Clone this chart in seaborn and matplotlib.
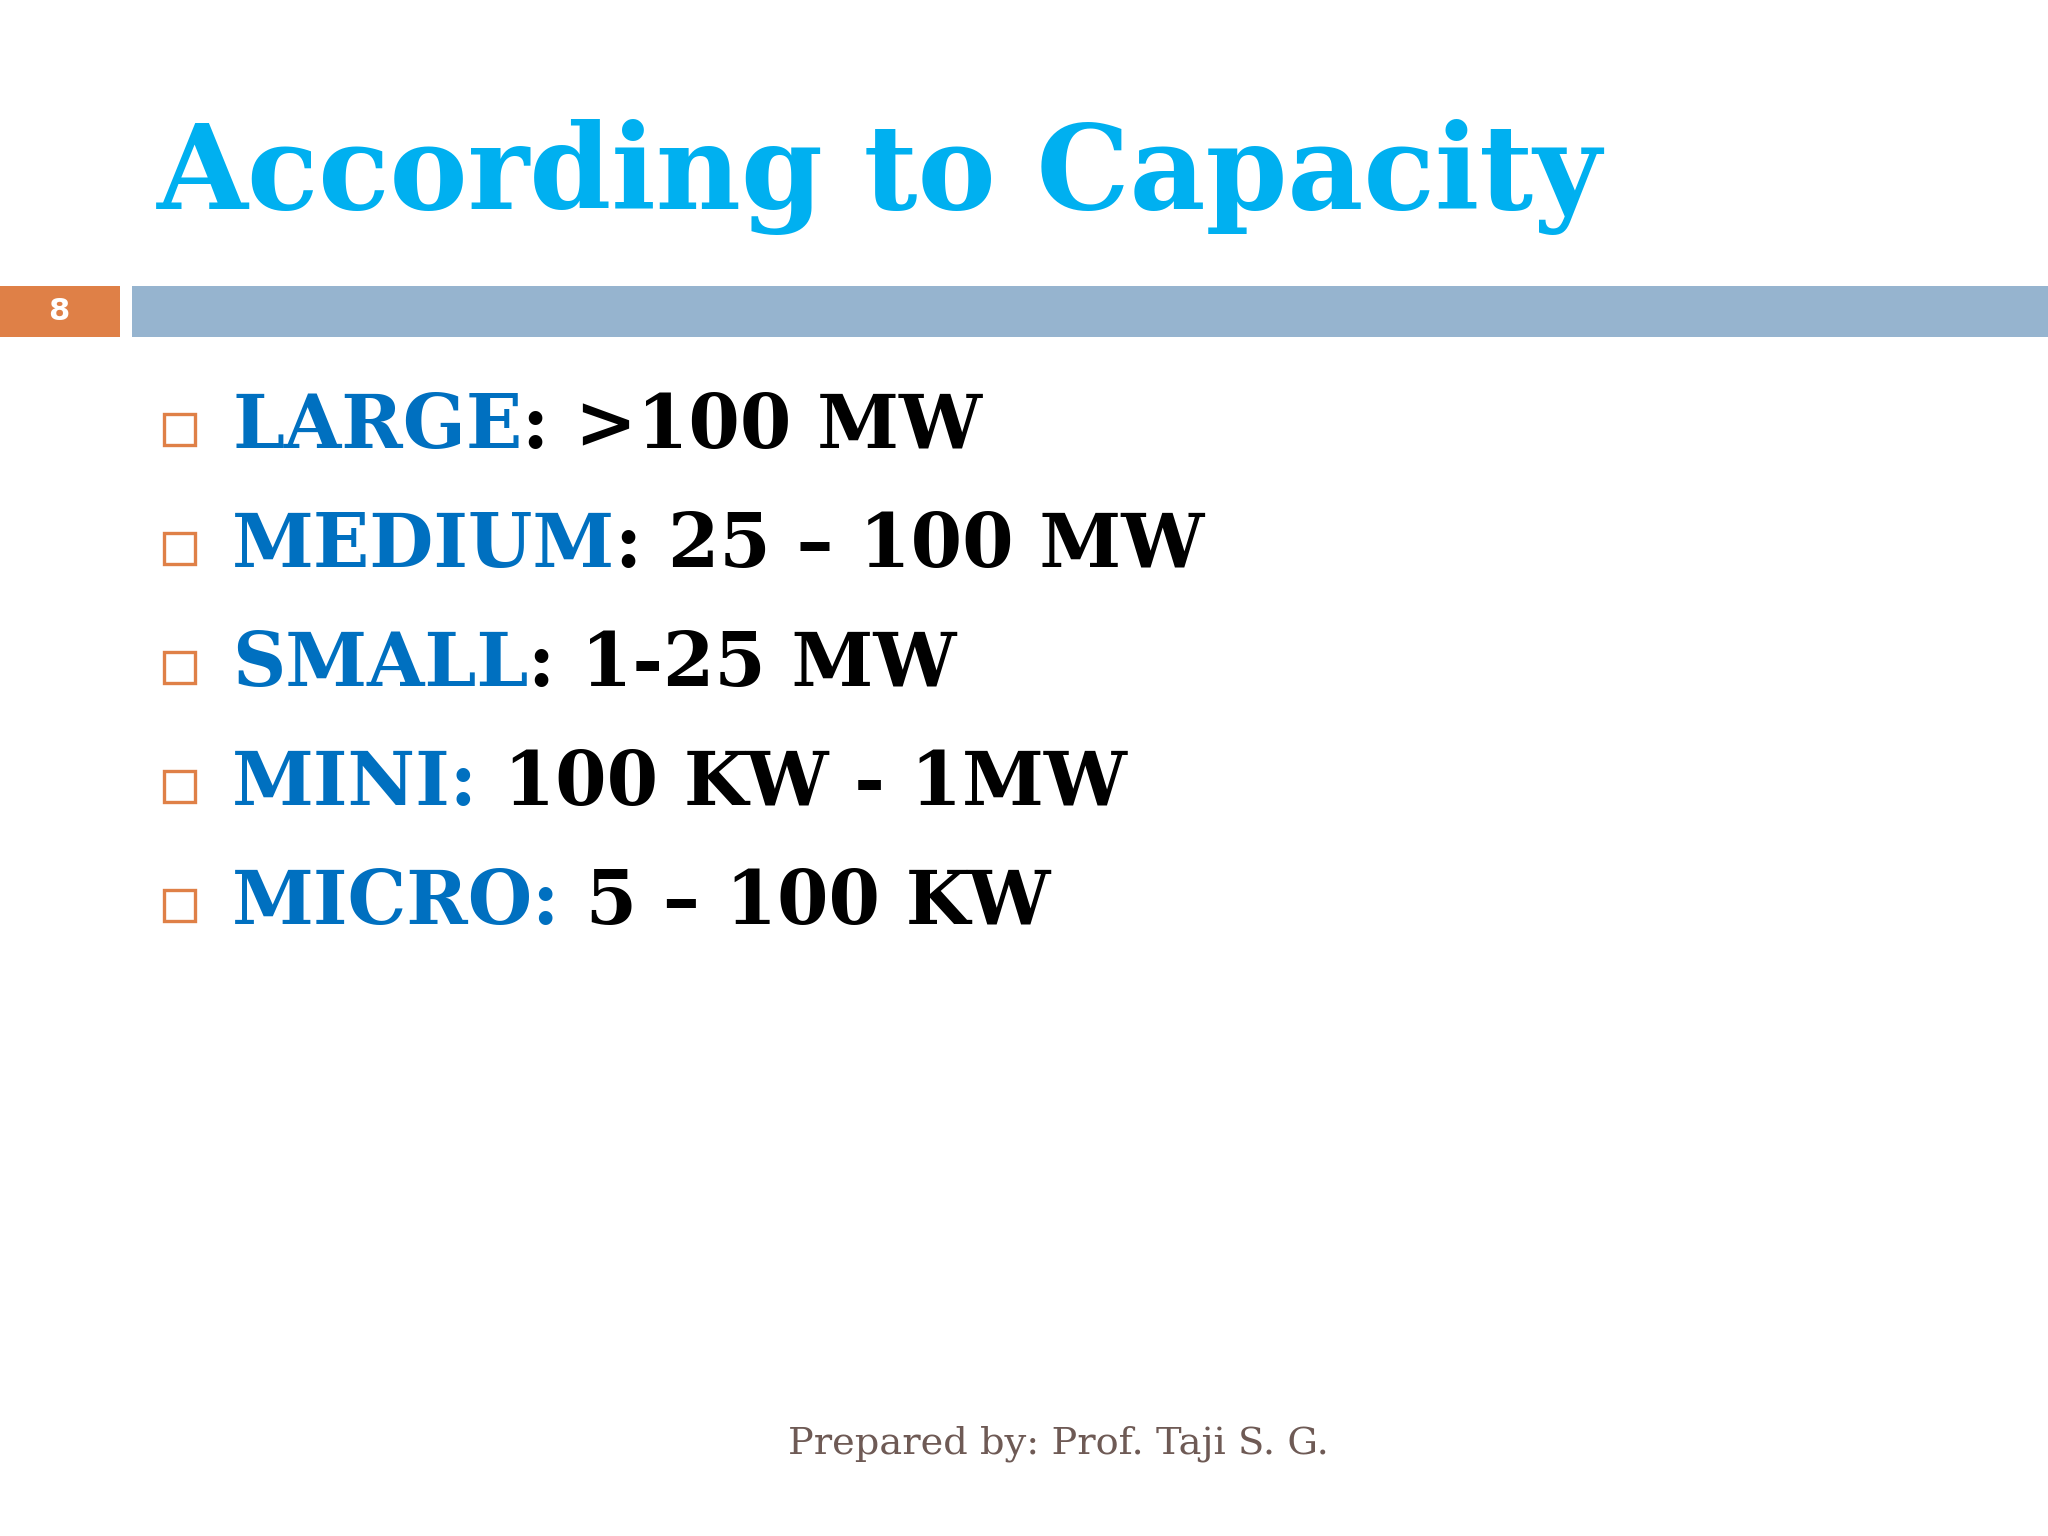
import matplotlib
matplotlib.use("Agg")
import matplotlib.pyplot as plt
import seaborn as sns
from matplotlib.patches import Rectangle

sns.set_theme(style="white")
plt.rcParams["font.family"] = ["DejaVu Serif", "DejaVu Sans"]

title = "According to Capacity"
slide_no = "8"
classes = ["LARGE", "MEDIUM", "SMALL", "MINI:", "MICRO:"]
ranges = [": >100 MW", ": 25 \u2013 100 MW", ": 1-25 MW", " 100 KW - 1MW", " 5 \u2013 100 KW"]
footer = "Prepared by: Prof. Taji S. G."

TITLE_BLUE = "#00B0F0"
LABEL_BLUE = "#0070C0"
ORANGE = "#DF8047"
BAR_BLUE = "#96B4CF"
FOOT = "#6E5A55"

fig = plt.figure(figsize=(20.48, 15.36), dpi=100, facecolor="white")
ax = fig.add_axes([0, 0, 1, 1])
ax.set_xlim(0, 2048)
ax.set_ylim(1536, 0)
ax.axis("off")
r = fig.canvas.get_renderer()


def w(t):
    return t.get_window_extent(r).width


# title
t = ax.text(157, 209, title, fontsize=90, fontweight="bold", color=TITLE_BLUE,
            va="baseline", ha="left")
t.set_fontsize(90 * 1446 / w(t))

# header bars
ax.add_patch(Rectangle((0, 286), 120, 51, color=ORANGE, lw=0))
ax.add_patch(Rectangle((132, 286), 1916, 51, color=BAR_BLUE, lw=0))
ax.text(59, 312, slide_no, fontsize=22, fontweight="bold", color="white",
        family="DejaVu Sans", ha="center", va="center")

# bullet list
fs = 55
probe = ax.text(0, 0, classes[1] + ranges[1], fontsize=fs, fontweight="bold")
fs = fs * 972 / w(probe)
probe.remove()

y0, step = 448, 119
for i, (c, rest) in enumerate(zip(classes, ranges)):
    y = y0 + i * step
    ax.add_patch(Rectangle((164, y - 34), 31, 31, fill=False, edgecolor=ORANGE, lw=2.4))
    a = ax.text(232, y, c, fontsize=fs, fontweight="bold", color=LABEL_BLUE,
                va="baseline", ha="left")
    ax.text(232 + w(a), y, rest, fontsize=fs, fontweight="bold", color="black",
            va="baseline", ha="left")

# footer
f = ax.text(1058, 1454, footer, fontsize=30, color=FOOT, va="baseline", ha="center")
f.set_fontsize(30 * 540 / w(f))

fig.savefig("out.png", dpi=100, facecolor="white")
